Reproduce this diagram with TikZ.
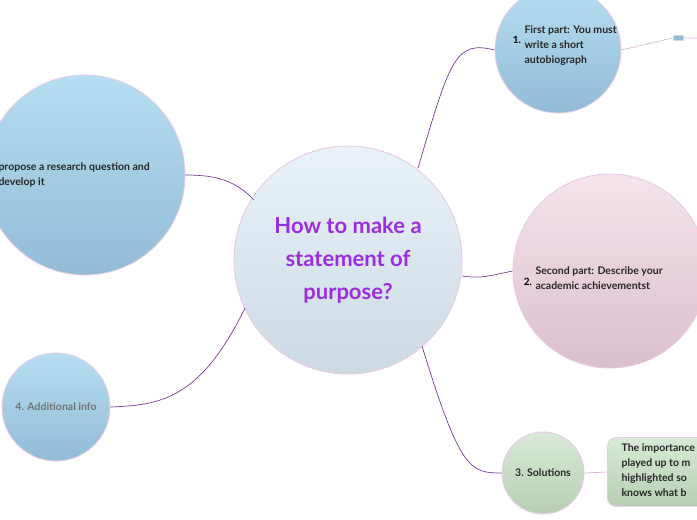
\documentclass[tikz,border=0pt]{standalone}
\usepackage{fontspec}
\setmainfont{Lato}
\definecolor{bt}{RGB}{182,222,242}
\definecolor{bb}{RGB}{146,188,214}
\definecolor{ct}{RGB}{232,242,248}
\definecolor{cb}{RGB}{205,218,228}
\definecolor{pt}{RGB}{245,228,236}
\definecolor{pb}{RGB}{218,192,204}
\definecolor{gt}{RGB}{216,234,214}
\definecolor{gb}{RGB}{184,206,180}
\definecolor{ln}{RGB}{120,60,150}
\definecolor{tt}{RGB}{155,45,225}
\begin{document}
\begin{tikzpicture}[x=1pt,y=-1pt,
 bub/.style={circle,draw=violet!20,line width=0.9pt,font=\bfseries\fontsize{10.5}{14}\selectfont,text=black!85,align=left},
 blue/.style={bub,top color=bt,bottom color=bb},
 txt/.style={align=left,font=\bfseries\fontsize{10.5}{15}\selectfont,text=black!85},
 con/.style={draw=ln,line width=0.7pt}]
\useasboundingbox (0,0) rectangle (697,520);
\node[bub,minimum size=228,top color=ct,bottom color=cb,font=\bfseries\fontsize{22}{33}\selectfont,text=tt,align=center] (c) at (348,260) {How to make a\\statement of\\purpose?};
\node[blue,minimum size=126] (a) at (558,50) {};
\node[txt,anchor=west] at (521,46) {First part: You must\\write a short\\autobiograph};
\node[font=\bfseries\fontsize{10}{10}\selectfont] at (517,40) {1.};
\node[bub,minimum size=194,top color=pt,bottom color=pb] (b) at (610,271) {};
\node[txt,anchor=west] at (532,278) {Second part: Describe your\\academic achievementst};
\node[font=\bfseries\fontsize{10}{10}\selectfont] at (528,282) {2.};
\node[bub,minimum size=82,top color=gt,bottom color=gb] (s) at (543,473) {3. Solutions};
\node[draw=violet!20,line width=0.9pt,rounded corners=9pt,top color=gt,bottom color=gb,minimum width=120,minimum height=69,anchor=west] (r) at (607,472) {};
\node[txt,anchor=north west,font=\bfseries\fontsize{10.5}{15}\selectfont] at (618,440) {The importance\\played up to m\\highlighted so\\knows what b};
\node[blue,minimum size=200] (l) at (85,175) {};
\node[txt,anchor=west] at (-5,175) {propose a research question and\\develop it};
\node[blue,minimum size=108,text=gray!90!black] (d) at (56,407) {4. Additional info};
\node[draw=violet!20,fill=bb,minimum width=10,minimum height=5,inner sep=0] (m) at (678,38) {};
\draw[con] (418,168) .. controls (450,60) and (455,40) .. (a.west);
\draw[con] (462,276) .. controls (480,278) .. (b.west);
\draw[con] (422,346) .. controls (460,470) and (470,473) .. (s.west);
\draw[con,draw=violet!30] (s.east) -- (r.west);
\draw[con] (254,200) .. controls (235,180) and (215,175) .. (l.east);
\draw[con] (245,308) .. controls (200,400) and (160,405) .. (d.east);
\draw[con,draw=violet!30] (a.east) -- (m.west) (m.east) -- (697,38);
\end{tikzpicture}
\end{document}
